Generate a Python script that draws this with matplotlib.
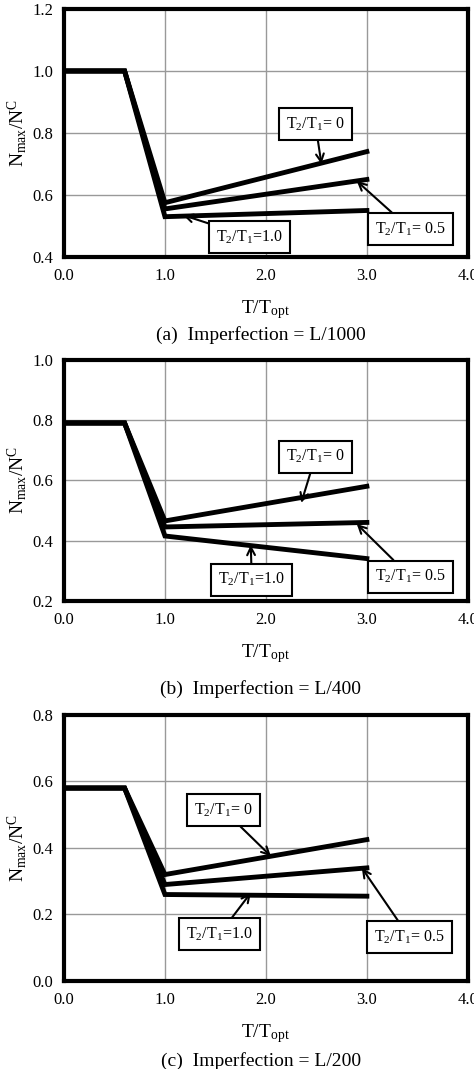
import matplotlib
matplotlib.use("Agg")
import matplotlib.pyplot as plt

plt.rcParams['font.family'] = ['Liberation Serif', 'DejaVu Serif']
plt.rcParams['mathtext.fontset'] = 'custom'
plt.rcParams['mathtext.rm'] = 'Liberation Serif'
plt.rcParams['mathtext.it'] = 'Liberation Serif'

# shared x positions of the curves
x_pts = [0.0, 0.6, 1.0, 3.0]

# panel data: plateau value, then values at T/Topt = 1.0 and 3.0 for T2/T1 = 0, 0.5, 1.0
plateau = [1.0, 0.79, 0.58]
at_one = [[0.575, 0.555, 0.53], [0.465, 0.445, 0.415], [0.32, 0.29, 0.26]]
at_three = [[0.74, 0.65, 0.55], [0.58, 0.46, 0.34], [0.425, 0.34, 0.255]]

y_lims = [(0.4, 1.2), (0.2, 1.0), (0.0, 0.8)]
captions = ["(a)  Imperfection = L/1000", "(b)  Imperfection = L/400", "(c)  Imperfection = L/200"]
labels = [r"T$_2$/T$_1$= 0", r"T$_2$/T$_1$= 0.5", r"T$_2$/T$_1$=1.0"]

# annotation (box centre, arrow tip) per panel, order: 0, 0.5, 1.0
notes = [
    [((2.49, 0.829), (2.55, 0.70)), ((3.43, 0.49), (2.9, 0.645)), ((1.84, 0.465), (1.18, 0.535))],
    [((2.49, 0.678), (2.35, 0.525)), ((3.43, 0.28), (2.9, 0.455)), ((1.86, 0.27), (1.85, 0.385))],
    [((1.58, 0.514), (2.05, 0.375)), ((3.42, 0.132), (2.95, 0.34)), ((1.54, 0.141), (1.85, 0.265))],
]

ax_rects = [
    [0.135, 0.7596, 0.852, 0.232],
    [0.135, 0.438, 0.852, 0.2255],
    [0.135, 0.0823, 0.852, 0.249],
]
caption_y = [0.687, 0.355, 0.007]

fig = plt.figure(figsize=(4.74, 10.69), dpi=100)

for i in range(3):
    ax = fig.add_axes(ax_rects[i])
    lo, hi = y_lims[i]
    for k in range(3):
        ys = [plateau[i], plateau[i], at_one[i][k], at_three[i][k]]
        ax.plot(x_pts, ys, color='black', lw=3.5, solid_joinstyle='miter', zorder=3)
    ax.set_xlim(0, 4)
    ax.set_ylim(lo, hi)
    ax.set_xticks([0, 1, 2, 3, 4])
    ax.set_xticklabels(["0.0", "1.0", "2.0", "3.0", "4.0"])
    yt = [lo + 0.2 * j for j in range(5)]
    ax.set_yticks(yt)
    ax.set_yticklabels([f"{v:.1f}" for v in yt])
    ax.grid(True, color='#999999', lw=1)
    ax.tick_params(length=0, labelsize=12, pad=8)
    for s in ax.spines.values():
        s.set_linewidth(3)
    ax.set_xlabel(r"T/T$_\mathregular{opt}$", fontsize=14, labelpad=10)
    ax.set_ylabel(r"N$_\mathregular{max}$/N$^\mathregular{C}$", fontsize=14, labelpad=2)
    for k in range(3):
        (bx, by), (tx, ty) = notes[i][k]
        ax.annotate(labels[k], xy=(tx, ty), xytext=(bx, by), ha='center', va='center',
                    fontsize=11.5, zorder=5,
                    bbox=dict(boxstyle='square,pad=0.45', fc='white', ec='black', lw=1.5),
                    arrowprops=dict(arrowstyle='->', color='black', lw=1.5,
                                    mutation_scale=14, shrinkA=0, shrinkB=0))
    fig.text(0.55, caption_y[i], captions[i], ha='center', va='center', fontsize=14)

fig.savefig("out.png", dpi=100)
